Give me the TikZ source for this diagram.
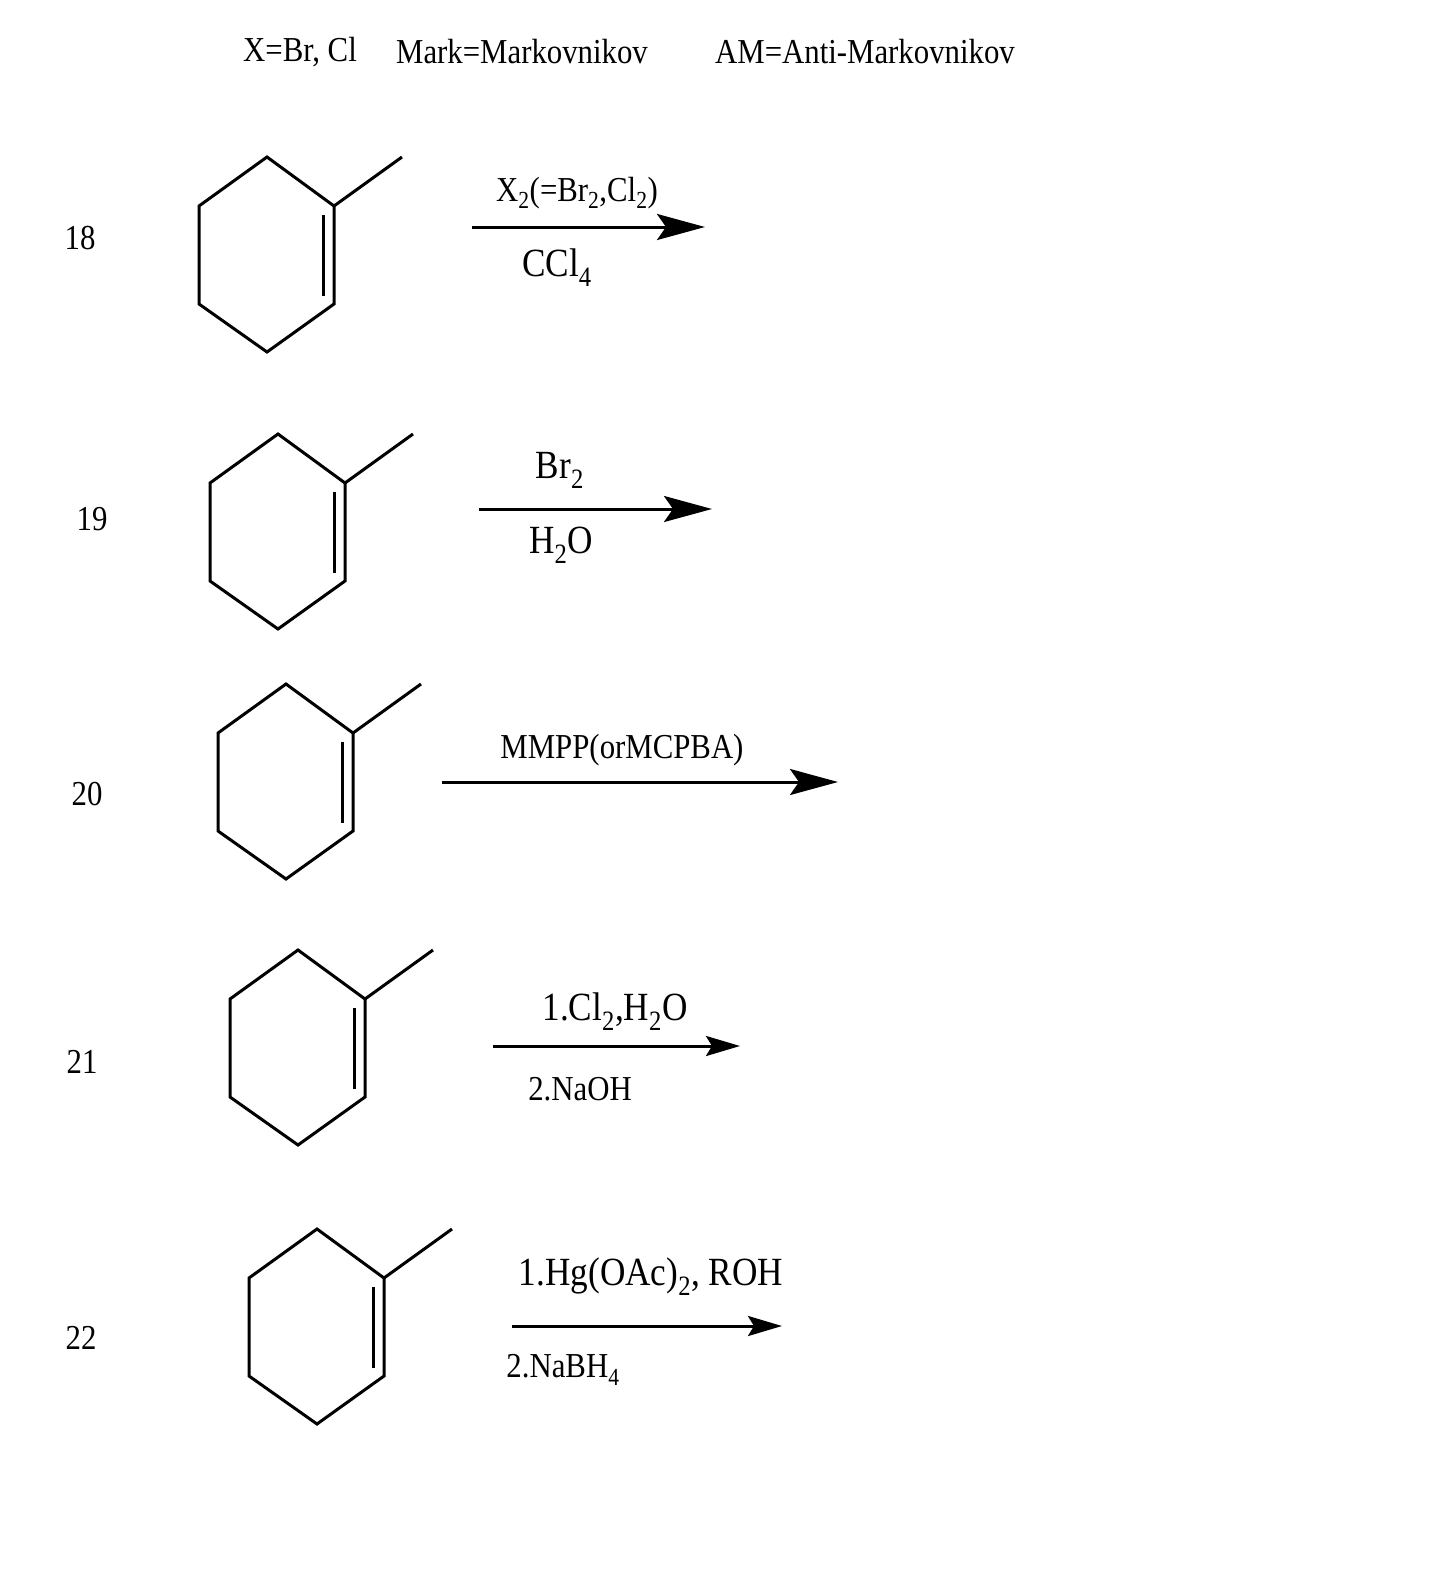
\documentclass[tikz,border=0pt]{standalone}
\usepackage{fontspec}
\setmainfont[FakeStretch=0.88]{Liberation Serif}
\usetikzlibrary{arrows.meta}
\newcommand{\sbs}[1]{\textsubscript{#1}}
\begin{document}
\begin{tikzpicture}[x=1pt,y=-1pt,line width=3pt,
  big/.style={font=\fontsize{40}{48}\selectfont,inner sep=0},
  med/.style={font=\fontsize{35}{42}\selectfont,inner sep=0},
  rx/.style={-{Stealth[length=48pt,width=26pt,inset=9pt]}},
  rxs/.style={-{Stealth[length=34pt,width=20pt,inset=6pt]}},
  pics/ring/.style={code={
    \draw[line join=miter] (0,0)--(-68,49)--(-68,147)--(0,195)--(67,147)--(67,49)--cycle;
    \draw (67,49)--(135,0);
    \draw (56,58)--(56,139);
  }}]
\useasboundingbox (0,0) rectangle (1453,1574);
\node[med] (h1) at (300,52) {X=Br, Cl};
\node[med] (h2) at (522,52) {Mark=Markovnikov};
\node[med] (h3) at (865,52) {AM=Anti-Markovnikov};
\pic at (267,157) {ring};
\pic at (278,434) {ring};
\pic at (286,684) {ring};
\pic at (298,950) {ring};
\pic at (317,1229) {ring};
\node[med] (n18) at (80,238) {18};
\node[med] (n19) at (92,519) {19};
\node[med] (n20) at (87,794) {20};
\node[med] (n21) at (82,1062) {21};
\node[med] (n22) at (81,1338) {22};
\coordinate (a1) at (472,227); \coordinate (b1) at (705,227);
\coordinate (a2) at (479,509); \coordinate (b2) at (712,509);
\coordinate (a3) at (442,782); \coordinate (b3) at (838,782);
\coordinate (a4) at (493,1046); \coordinate (b4) at (740,1046);
\coordinate (a5) at (512,1326); \coordinate (b5) at (782,1326);
\draw[rx] (a1)--(b1);
\draw[rx] (a2)--(b2);
\draw[rx] (a3)--(b3);
\draw[rxs] (a4)--(b4);
\draw[rxs] (a5)--(b5);
\node[med] (t1) at (577,193) {X\sbs{2}(=Br\sbs{2},Cl\sbs{2})};
\node[big] (t2) at (557,268) {CCl\sbs{4}};
\node[big] (t3) at (560,470) {Br\sbs{2}};
\node[big] (t4) at (561,545) {H\sbs{2}O};
\node[med] (t5) at (622,750) {MMPP(orMCPBA)};
\node[big] (t6) at (615,1012) {1.Cl\sbs{2},H\sbs{2}O};
\node[med] (t7) at (580,1089) {2.NaOH};
\node[big] (t8) at (651,1277) {1.Hg(OAc)\sbs{2}, ROH};
\node[med] (t9) at (563,1370) {2.NaBH\sbs{4}};
\end{tikzpicture}
\end{document}
